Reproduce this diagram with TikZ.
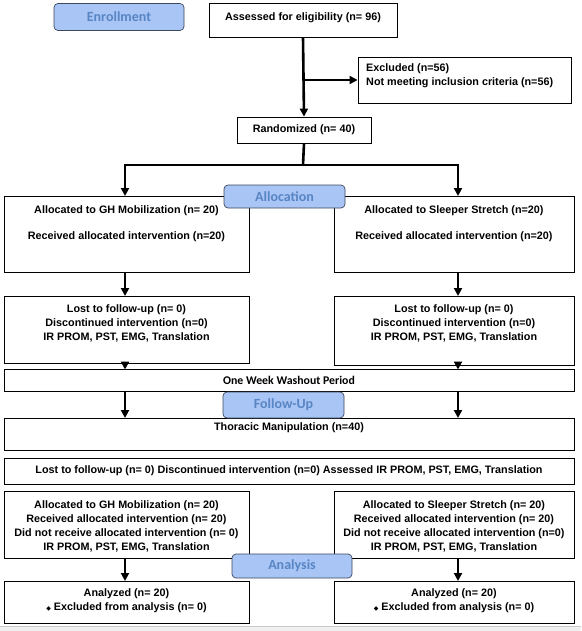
\documentclass[tikz,border=0pt]{standalone}
\usepackage{fontspec}
\setmainfont{Liberation Sans}
\newfontfamily\calfont{Carlito}
\newfontfamily\djv{DejaVu Sans}
\usetikzlibrary{arrows.meta}
\definecolor{lblfill}{RGB}{169,197,245}
\definecolor{lbltext}{RGB}{88,133,196}
\definecolor{lbldraw}{RGB}{60,72,92}
\tikzset{
  box/.style={draw=black, line width=0.8pt, fill=white, inner sep=0pt},
  txt/.style={font=\fontsize{10.8}{14}\selectfont\bfseries, align=center, inner sep=0pt},
  lbl/.style={draw=lbldraw, line width=0.7pt, fill=lblfill, rounded corners=4pt, inner sep=0pt,
     text=lbltext, font=\calfont\fontsize{14}{14}\selectfont\bfseries},
  arr/.style={line width=2.6pt, -{Triangle[length=8pt,width=8pt]}},
  thick line/.style={line width=2.6pt}
}
\newcommand{\dmd}{{\djv\fontsize{6}{6}\selectfont ◆}}
\begin{document}
\begin{tikzpicture}[x=1pt,y=-1pt]
\useasboundingbox (0,0) rectangle (581,631);
\fill[white] (0,0) rectangle (581,631);
\fill[black!6] (0,626) rectangle (581,631);
\draw[black!20, line width=0.6pt] (0,626) -- (581,626);
% boxes
\node[box, minimum width=188pt, minimum height=34pt] (assess) at (303,20) {};
\node[box, minimum width=213pt, minimum height=46pt] (excl) at (464.5,80) {};
\node[box, minimum width=134pt, minimum height=26pt] (rand) at (304,130) {};
\node[box, minimum width=245pt, minimum height=76pt] (alL) at (126.5,234) {};
\node[box, minimum width=240pt, minimum height=76pt] (alR) at (454,234) {};
\node[box, minimum width=245pt, minimum height=67pt] (lostL) at (126.5,329.5) {};
\node[box, minimum width=240pt, minimum height=69pt] (lostR) at (454,330.5) {};
\node[box, minimum width=570pt, minimum height=22pt] (wash) at (289,380) {};
\node[box, minimum width=570pt, minimum height=32pt] (thor) at (289,434) {};
\node[box, minimum width=570pt, minimum height=26pt] (lostall) at (289,471.5) {};
\node[box, minimum width=245pt, minimum height=67pt] (altL) at (126.5,524.5) {};
\node[box, minimum width=240pt, minimum height=67pt] (altR) at (454,524.5) {};
\node[box, minimum width=245pt, minimum height=42pt] (anL) at (126.5,602) {};
\node[box, minimum width=240pt, minimum height=42pt] (anR) at (454,602) {};
% texts
\node[txt] (assesst) at (303,18) {Assessed for eligibility (n= 96)};
\node[txt, align=left, anchor=west] (exclt) at (366,76) {Excluded (n=56)\\Not meeting inclusion criteria (n=56)};
\node[txt] (randt) at (304,130) {Randomized (n= 40)};
\node[txt] (alLt) at (126.5,224) {Allocated to GH Mobilization (n= 20)\\[12pt]Received allocated intervention (n=20)};
\node[txt] (alRt) at (454,224) {Allocated to Sleeper Stretch (n=20)\\[12pt]Received allocated intervention (n=20)};
\node[txt] (lostLt) at (126.5,323.5) {Lost to follow-up (n= 0)\\Discontinued intervention (n=0)\\IR PROM, PST, EMG, Translation};
\node[txt] (lostRt) at (454,323.5) {Lost to follow-up (n= 0)\\Discontinued intervention (n=0)\\IR PROM, PST, EMG, Translation};
\node[txt, font=\calfont\fontsize{11.8}{12}\selectfont\bfseries] (washt) at (289,380) {One Week Washout Period};
\node[txt] (thort) at (289,428) {Thoracic Manipulation (n=40)};
\node[txt] (lostallt) at (289,471) {Lost to follow-up (n= 0) Discontinued intervention (n=0) Assessed IR PROM, PST, EMG, Translation};
\node[txt] (altLt) at (126.5,526) {Allocated to GH Mobilization (n= 20)\\Received allocated intervention (n= 20)\\Did not receive allocated intervention (n= 0)\\IR PROM, PST, EMG, Translation};
\node[txt] (altRt) at (454,526) {Allocated to Sleeper Stretch (n= 20)\\Received allocated intervention (n= 20)\\Did not receive allocated intervention (n=0)\\IR PROM, PST, EMG, Translation};
\node[txt] (anLt) at (126.5,601) {Analyzed (n= 20)\\\dmd~Excluded from analysis (n= 0)};
\node[txt] (anRt) at (454,601) {Analyzed (n= 20)\\\dmd~Excluded from analysis (n= 0)};
% connectors
\coordinate (br1) at (assess.south |- excl.west);
\coordinate (sp) at (303,165);
\draw[arr] (assess.south) -- (rand.north);
\draw[arr] (br1) -- (excl.west);
\draw[thick line] (rand.south) -- (sp);
\draw[arr] (sp) -- (125,165) -- (125,196);
\draw[arr] (sp) -- (458,165) -- (458,196);
\draw[arr] (125,272) -- (125,296);
\draw[arr] (458,272) -- (458,296);
\draw[arr] (125,363) -- (125,369.5);
\draw[arr] (458,365) -- (458,369.5);
\draw[arr] (125,391) -- (125,418);
\draw[arr] (458,391) -- (458,418);
\draw[arr] (125,558) -- (125,581);
\draw[arr] (458,558) -- (458,581);
% labels
\node[lbl, minimum width=130pt, minimum height=27pt] (enr) at (119,17) {Enrollment};
\node[lbl, minimum width=121pt, minimum height=23pt] (alloc) at (284.5,196.5) {Allocation};
\node[lbl, minimum width=121pt, minimum height=26pt] (fup) at (283.5,405) {Follow-Up};
\node[lbl, minimum width=120pt, minimum height=24pt] (anal) at (292,566) {Analysis};
\end{tikzpicture}
\end{document}
